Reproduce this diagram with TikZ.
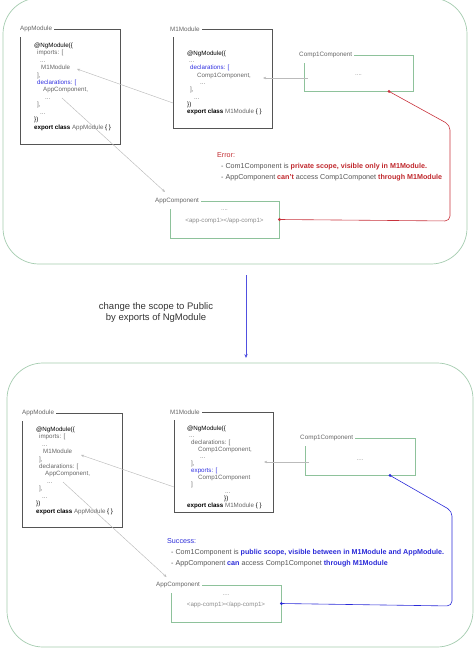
\documentclass[tikz,border=0pt]{standalone}
\usepackage{fontspec}
\setmainfont{Liberation Sans}
\usepackage{tikz}
\usetikzlibrary{positioning,arrows.meta}
\definecolor{panelgreen}{HTML}{A3CBAE}
\definecolor{compgreen}{HTML}{8EC29B}
\definecolor{modgray}{HTML}{555555}
\definecolor{codegray}{HTML}{666666}
\definecolor{refgray}{HTML}{BBBBBB}
\definecolor{kwblue}{HTML}{3030E0}
\definecolor{errred}{HTML}{C0282D}
\definecolor{okblue}{HTML}{2B2BD8}
\definecolor{flowblue}{HTML}{5050E0}
\definecolor{linkred}{HTML}{C8323C}
\newcommand{\kw}[1]{\textcolor{kwblue}{#1}}
\newcommand{\ngdecl}{\textcolor{black}{@NgModule(\{}}
\newcommand{\ngend}{\textcolor{black}{\})}}
\newcommand{\exportcls}[1]{\textcolor{black}{\bfseries export class} #1 \textcolor{black}{\{ \}}}
\tikzset{panel/.style={draw=panelgreen,line width=0.7pt,rounded corners=36pt}}
\tikzset{module box/.style={draw=modgray,line width=0.8pt,inner sep=0pt}}
\tikzset{comp box/.style={draw=compgreen,line width=0.8pt,inner sep=0pt}}
\tikzset{box label/.style={anchor=west,fill=white,inner xsep=2pt,inner ysep=5.5pt,text=codegray,font=\fontsize{6.3}{7}\selectfont}}
\tikzset{code/.style={anchor=north west,align=left,inner sep=0pt,text=codegray,font=\fontsize{6.2}{#1}\selectfont},code/.default=7.4pt}
\tikzset{inner text/.style={anchor=base,inner sep=0pt,text=codegray!75,font=\fontsize{6.2}{7}\selectfont}}
\tikzset{ref/.style={draw=refgray,line width=0.45pt,->}}
\tikzset{link/.style={line width=0.6pt,rounded corners=5pt}}
\tikzset{note/.style={anchor=north west,align=left,inner sep=0pt,text=modgray,font=\fontsize{7.15}{11}\selectfont}}

\begin{document}
\begin{tikzpicture}[x=1pt,y=-1pt,>={Stealth[length=3.2pt,width=2.6pt]}]
  \useasboundingbox (0,0) rectangle (474,652);
  % two panels
  \draw[panel] (3,-2) rectangle (467,264);
  \draw[panel] (7,363) rectangle (473,647);

  % ---- private scope ----
  \node[module box,minimum width=100pt,minimum height=115pt] (appmod1) at (70,86.5) {};
  \node[box label] (appmod1 label) at (18,29) {AppModule};
  \node[code=7.45pt] (appmod1 code) at (34,42.6) {\ngdecl\\
    \hspace*{3pt}imports: [\\ \hspace*{6pt}...\\ \hspace*{7pt}M1Module\\ \hspace*{3pt}],\\
    \hspace*{3pt}\kw{declarations: [}\\ \hspace*{9pt}AppComponent,\\ \hspace*{11pt}...\\
    \hspace*{3pt}],\\ \hspace*{6pt}...\\ \ngend\\ \exportcls{AppModule}};

  \node[module box,minimum width=99pt,minimum height=99pt] (m1mod1) at (222.5,78.5) {};
  \node[box label] (m1mod1 label) at (168,29) {M1Module};
  \node[code=7.3pt] (m1mod1 code) at (187,50.6) {\ngdecl\\
    \hspace*{2pt}...\\ \hspace*{3pt}\kw{declarations: [}\\ \hspace*{10pt}Comp1Component,\\
    \hspace*{13pt}...\\ \hspace*{3pt}],\\ \hspace*{7pt}...\\ \ngend\\ \exportcls{M1Module}};

  \node[comp box,minimum width=109pt,minimum height=36pt] (comp1) at (358.5,73) {};
  \node[box label] (comp1 label) at (297,55) {Comp1Component};
  \node[inner text] (comp1 body) at (358.5,76) {....};

  \node[comp box,minimum width=109pt,minimum height=37pt] (appcomp1) at (224.5,219.5) {};
  \node[box label] (appcomp1 label) at (153,201) {AppComponent};
  \node[inner text] (appcomp1 body) at (224.5,211) {....};
  \node[inner text] (appcomp1 tag) at (224.5,222.5) {<app-comp1></app-comp1>};

  \node[note] (error note) at (217,152.3) {\textcolor{errred}{Error:}\\
    \hspace*{4pt}- Com1Component is \textcolor{errred}{\bfseries private scope, visible only in M1Module.}\\
    \hspace*{4pt}- AppComponent \textcolor{errred}{\bfseries can't} access Comp1Componet \textcolor{errred}{\bfseries through M1Module}};

  \coordinate (comp1 out) at (308,78);
  \coordinate (m1mod1 decl) at (263,78);
  \coordinate (m1mod1 out) at (173,103);
  \coordinate (appmod1 imp) at (77,69);
  \coordinate (appmod1 decl) at (62,98);
  \coordinate (appcomp1 in) at (165,192);
  \draw[ref] (comp1 out) -- (m1mod1 decl);
  \draw[ref] (m1mod1 out) -- (appmod1 imp);
  \draw[ref] (appmod1 decl) -- (appcomp1 in);
  \draw[link,draw=linkred] (appcomp1.east) -- (450,221) -- (450,125) -- ([xshift=30.5pt]comp1.south);
  \fill[linkred] (appcomp1.east) circle (1.6pt) ([xshift=30.5pt]comp1.south) circle (1.6pt);

  % ---- change of scope ----
  \node[align=center,text=black!80,font=\fontsize{9.5}{11}\selectfont] (scope note) at (156,312.5) {change the scope to Public\\by exports of NgModule};
  \coordinate (flow start) at (246,275);
  \coordinate (flow end) at (246,358);
  \draw[draw=flowblue,line width=0.7pt,-{Stealth[length=4pt,width=3.4pt]}] (flow start) -- (flow end);

  % ---- public scope ----
  \node[module box,minimum width=100pt,minimum height=114pt] (appmod2) at (72,470) {};
  \node[box label] (appmod2 label) at (20,413) {AppModule};
  \node[code=7.45pt] (appmod2 code) at (36,426.6) {\ngdecl\\
    \hspace*{3pt}imports: [\\ \hspace*{6pt}...\\ \hspace*{7pt}M1Module\\ \hspace*{3pt}],\\
    \hspace*{3pt}declarations: [\\ \hspace*{9pt}AppComponent,\\ \hspace*{11pt}...\\
    \hspace*{3pt}],\\ \hspace*{6pt}...\\ \ngend\\ \exportcls{AppModule}};

  \node[module box,minimum width=99pt,minimum height=100pt] (m1mod2) at (223.5,462) {};
  \node[box label] (m1mod2 label) at (168,412) {M1Module};
  \node[code=7pt] (m1mod2 code) at (187,425.8) {\ngdecl\\
    \hspace*{2pt}...\\ \hspace*{4pt}declarations: [\\ \hspace*{11pt}Comp1Component,\\
    \hspace*{13pt}...\\ \hspace*{4pt}],\\ \hspace*{4pt}\kw{exports: [}\\ \hspace*{11pt}Comp1Component\\
    \hspace*{4pt}]\\ \hspace*{38pt}...\\ \hspace*{37pt}\ngend\\ \exportcls{M1Module}};

  \node[comp box,minimum width=110pt,minimum height=37pt] (comp2) at (360,456.5) {};
  \node[box label] (comp2 label) at (298,438) {Comp1Component};
  \node[inner text] (comp2 body) at (360,460) {....};

  \node[comp box,minimum width=110pt,minimum height=37pt] (appcomp2) at (226,603.5) {};
  \node[box label] (appcomp2 label) at (154,585) {AppComponent};
  \node[inner text] (appcomp2 body) at (226,595) {....};
  \node[inner text] (appcomp2 tag) at (226,606.5) {<app-comp1></app-comp1>};

  \node[note] (success note) at (167,538.5) {\textcolor{okblue}{Success:}\\
    \hspace*{4pt}- Com1Component is \textcolor{okblue}{\bfseries public scope, visible between in M1Module and AppModule.}\\
    \hspace*{4pt}- AppComponent \textcolor{okblue}{\bfseries can} access Comp1Componet \textcolor{okblue}{\bfseries through M1Module}};

  \coordinate (comp2 out) at (309,462);
  \coordinate (m1mod2 decl) at (264,462);
  \coordinate (m1mod2 out) at (174,487);
  \coordinate (appmod2 imp) at (81,455);
  \coordinate (appmod2 decl) at (63,482);
  \coordinate (appcomp2 in) at (166.5,577);
  \draw[ref] (comp2 out) -- (m1mod2 decl);
  \draw[ref] (m1mod2 out) -- (appmod2 imp);
  \draw[ref] (appmod2 decl) -- (appcomp2 in);
  \draw[link,draw=okblue] (appcomp2.east) -- (452,606) -- (452,511) -- ([xshift=30pt]comp2.south);
  \fill[okblue] (appcomp2.east) circle (1.6pt) ([xshift=30pt]comp2.south) circle (1.6pt);
\end{tikzpicture}
\end{document}
